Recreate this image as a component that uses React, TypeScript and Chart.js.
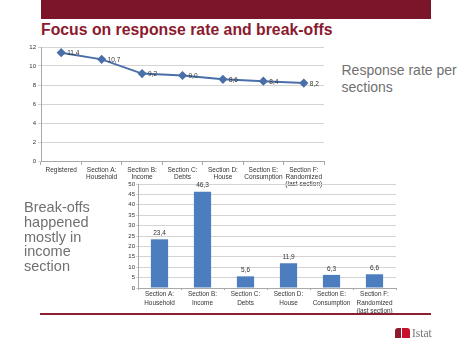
import React, { useEffect, useRef } from "react";
import { Chart, registerables } from "chart.js";

Chart.register(...registerables);

const lineCategories: string[][] = [
  ["Registered"],
  ["Section A:", "Household"],
  ["Section B:", "Income"],
  ["Section C:", "Debts"],
  ["Section D:", "House"],
  ["Section E:", "Consumption"],
  ["Section F:", "Randomized", "(last section)"],
];
const responseRate: number[] = [11.4, 10.7, 9.2, 9.0, 8.6, 8.4, 8.2];

const barCategories: string[][] = [
  ["Section A:", "Household"],
  ["Section B:", "Income"],
  ["Section C:", "Debts"],
  ["Section D:", "House"],
  ["Section E:", "Consumption"],
  ["Section F:", "Randomized", "(last section)"],
];
const breakOffs: number[] = [23.4, 46.3, 5.6, 11.9, 6.3, 6.6];

const FONT = "'Liberation Sans', Arial, Helvetica, sans-serif";
const fmt = (v: number) => v.toFixed(1).replace(".", ",");

const lineLabelPlugin = {
  id: "lineLabels",
  afterDatasetsDraw(chart: any) {
    const ctx = chart.ctx;
    const meta = chart.getDatasetMeta(0);
    ctx.save();
    ctx.font = `6.5px ${FONT}`;
    ctx.fillStyle = "#333";
    ctx.textAlign = "left";
    ctx.textBaseline = "middle";
    meta.data.forEach((pt: any, i: number) => {
      ctx.fillText(fmt(responseRate[i]), pt.x + 6, pt.y + 1);
    });
    ctx.restore();
  },
};

const barLabelPlugin = {
  id: "barLabels",
  afterDatasetsDraw(chart: any) {
    const ctx = chart.ctx;
    const meta = chart.getDatasetMeta(0);
    ctx.save();
    ctx.font = `6.5px ${FONT}`;
    ctx.fillStyle = "#333";
    ctx.textAlign = "center";
    ctx.textBaseline = "middle";
    meta.data.forEach((bar: any, i: number) => {
      ctx.fillText(fmt(breakOffs[i]), bar.x, bar.y - 6);
    });
    ctx.restore();
  },
};

function LineChart() {
  const ref = useRef<HTMLCanvasElement>(null);
  useEffect(() => {
    const chart = new Chart(ref.current!, {
      type: "line",
      data: {
        labels: lineCategories,
        datasets: [
          {
            data: responseRate,
            borderColor: "#4A6FA8",
            backgroundColor: "#4A6FA8",
            borderWidth: 2,
            pointStyle: "rectRot",
            pointRadius: 3.2,
            tension: 0,
          },
        ],
      },
      options: {
        animation: false,
        responsive: false,
        plugins: { legend: { display: false }, tooltip: { enabled: false } },
        layout: { padding: { top: 7, right: 5, left: 0, bottom: 0 } },
        scales: {
          x: {
            offset: true,
            grid: {
              offset: true,
              drawOnChartArea: false,
              drawTicks: true,
              tickLength: 4,
              color: "#a8a8a8",
            },
            border: { color: "#a8a8a8" },
            ticks: {
              font: { family: FONT, size: 6.5, lineHeight: 1.15 },
              color: "#333",
              padding: 1,
              maxRotation: 0,
              autoSkip: false,
            },
            afterFit: (s: any) => {
              s.height = 31;
            },
          },
          y: {
            min: 0,
            max: 12,
            ticks: {
              stepSize: 2,
              font: { family: FONT, size: 6 },
              color: "#333",
              padding: 2,
            },
            grid: { color: "#d4d4d4", tickLength: 3 },
            border: { color: "#a8a8a8" },
            afterFit: (s: any) => {
              s.width = 26;
            },
          },
        },
      },
      plugins: [lineLabelPlugin],
    });
    return () => chart.destroy();
  }, []);
  return (
    <canvas
      ref={ref}
      width={315}
      height={152}
      style={{ position: "absolute", left: 15, top: 40, width: 315, height: 152 }}
    />
  );
}

function BarChart() {
  const ref = useRef<HTMLCanvasElement>(null);
  useEffect(() => {
    const chart = new Chart(ref.current!, {
      type: "bar",
      data: {
        labels: barCategories,
        datasets: [
          {
            data: breakOffs,
            backgroundColor: "#4C7DBE",
            borderWidth: 0,
            categoryPercentage: 1,
            barPercentage: 0.4,
          },
        ],
      },
      options: {
        animation: false,
        responsive: false,
        plugins: { legend: { display: false }, tooltip: { enabled: false } },
        layout: { padding: { top: 9, right: 4, left: 0, bottom: 0 } },
        scales: {
          x: {
            grid: {
              offset: true,
              drawOnChartArea: false,
              drawTicks: true,
              tickLength: 2,
              color: "#a8a8a8",
            },
            border: { color: "#a8a8a8" },
            ticks: {
              font: { family: FONT, size: 6.4, lineHeight: 1.35 },
              color: "#333",
              padding: 0,
              maxRotation: 0,
              autoSkip: false,
            },
            afterFit: (s: any) => {
              s.height = 29;
            },
          },
          y: {
            min: 0,
            max: 50,
            ticks: {
              stepSize: 5,
              font: { family: FONT, size: 6 },
              color: "#333",
              padding: 1,
            },
            grid: { color: "#d4d4d4", tickLength: 2 },
            border: { color: "#a8a8a8" },
            afterFit: (s: any) => {
              s.width = 28;
            },
          },
        },
      },
      plugins: [barLabelPlugin],
    });
    return () => chart.destroy();
  }, []);
  return (
    <canvas
      ref={ref}
      width={290}
      height={142}
      style={{ position: "absolute", left: 110, top: 175, width: 290, height: 142 }}
    />
  );
}

export default function App() {
  return (
    <div
      style={{
        position: "fixed",
        left: 0,
        top: 0,
        width: 474,
        height: 355,
        background: "#fff",
        overflow: "hidden",
        fontFamily: FONT,
      }}
    >
      <div
        style={{
          position: "absolute",
          left: 41,
          top: 0,
          width: 390,
          height: 19,
          background: "#7B1529",
        }}
      />
      <div
        style={{
          position: "absolute",
          left: 41,
          top: 21.6,
          fontSize: 15.8,
          lineHeight: "15.8px",
          fontWeight: "bold",
          color: "#8B1A2E",
          whiteSpace: "nowrap",
        }}
      >
        Focus on response rate and break-offs
      </div>
      <LineChart />
      <BarChart />
      <div
        style={{
          position: "absolute",
          left: 341.5,
          top: 62,
          fontSize: 14,
          lineHeight: "16.6px",
          color: "#707070",
          whiteSpace: "nowrap",
        }}
      >
        Response rate per
        <br />
        sections
      </div>
      <div
        style={{
          position: "absolute",
          left: 24,
          top: 200.3,
          fontSize: 14.5,
          lineHeight: "14.7px",
          color: "#707070",
          whiteSpace: "nowrap",
        }}
      >
        Break-offs
        <br />
        happened
        <br />
        mostly in
        <br />
        income
        <br />
        section
      </div>
      <div
        style={{
          position: "absolute",
          left: 40,
          top: 313.3,
          width: 391,
          height: 1.5,
          background: "#8B2035",
        }}
      />
      <div
        style={{
          position: "absolute",
          left: 394.5,
          top: 328,
          width: 6,
          height: 10,
          background: "#8E1B2C",
          borderTopLeftRadius: 3,
        }}
      />
      <div
        style={{
          position: "absolute",
          left: 401.5,
          top: 328,
          width: 8,
          height: 10,
          background: "#C8102E",
          borderTopRightRadius: 3,
        }}
      />
      <div
        style={{
          position: "absolute",
          left: 412,
          top: 326.5,
          fontSize: 11.5,
          lineHeight: "12px",
          fontFamily: "'Liberation Serif', 'Times New Roman', serif",
          color: "#777",
          whiteSpace: "nowrap",
        }}
      >
        Istat
      </div>
    </div>
  );
}
